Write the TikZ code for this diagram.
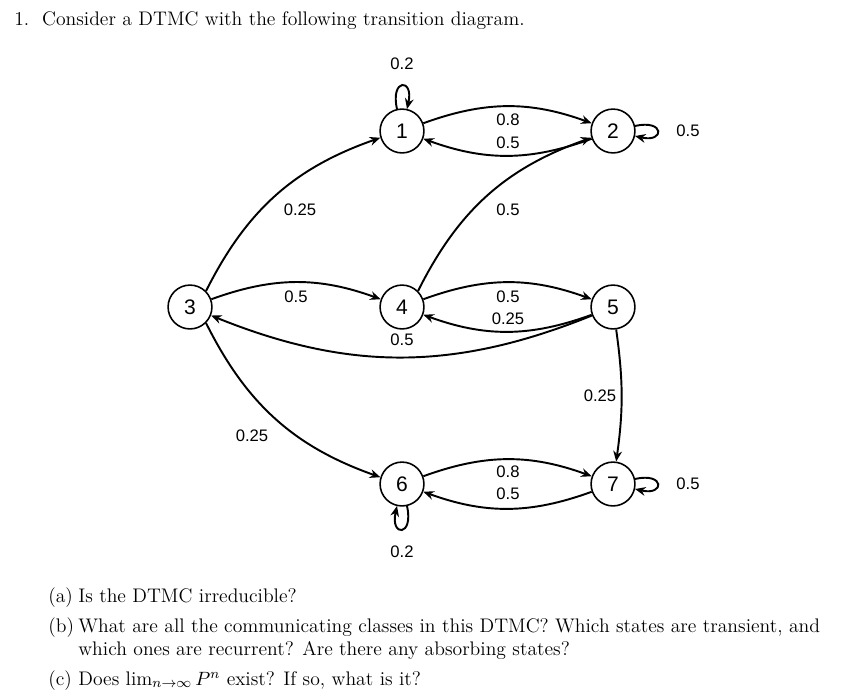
\documentclass[tikz,border=0pt]{standalone}
\usepackage{fontspec}
\newfontfamily\lab{Liberation Sans}
\usetikzlibrary{arrows.meta}
\begin{document}
\begin{tikzpicture}[x=0.57pt,y=-0.57pt,
 st/.style={circle,draw,line width=0.9pt,minimum size=25pt,inner sep=0pt,font=\lab\fontsize{12}{13}\selectfont},
 e/.style={line width=1.1pt,-{Stealth[length=6pt,width=5pt]}},
 lb/.style={font=\lab\fontsize{9.5}{11}\selectfont,inner sep=1pt},
 tx/.style={anchor=base west,inner sep=0pt,font=\fontsize{11.2}{13}\selectfont}]
\useasboundingbox (0,0) rectangle (846,698);
\node[st] (n1) at (402,131) {1};
\node[st] (n2) at (613,131) {2};
\node[st] (n3) at (190,307) {3};
\node[st] (n4) at (402,307) {4};
\node[st] (n5) at (613,307) {5};
\node[st] (n6) at (402,484) {6};
\node[st] (n7) at (613,484) {7};
\draw[e] (n1) to[bend left=20] (n2);
\draw[e] (n2) to[bend left=20] (n1);
\draw[e] (n6) to[bend left=20] (n7);
\draw[e] (n7) to[bend left=20] (n6);
\draw[e] (n4) to[bend left=20] (n5);
\draw[e] (n5) to[bend left=20] (n4);
\draw[e] (n3) to[bend left=20] (n4);
\draw[e] (n5) to[bend left=22] (n3);
\draw[e] (n3.north east) to[bend left=22] (n1);
\draw[e] (n3.south east) to[bend right=22] (n6);
\draw[e] (n4.north east) to[bend left=22] (n2);
\draw[e] (n5) to[bend left=8] (n7);
\coordinate (a1) at (397,109); \coordinate (b1) at (407,109);
\draw[e] (a1) .. controls (390,78) and (414,78) .. (b1);
\coordinate (a6) at (397,506); \coordinate (b6) at (407,506);
\draw[e] (b6) .. controls (414,537) and (390,537) .. (a6);
\coordinate (a2) at (635,126); \coordinate (b2) at (635,136);
\draw[e] (a2) .. controls (665,119) and (665,143) .. (b2);
\coordinate (a7) at (635,479); \coordinate (b7) at (635,489);
\draw[e] (a7) .. controls (665,472) and (665,496) .. (b7);
\node[lb] (l1) at (402,64) {0.2};
\node[lb] (l2) at (688,131) {0.5};
\node[lb] (l3) at (508,120) {0.8};
\node[lb] (l4) at (508,143) {0.5};
\node[lb] (l5) at (300,210) {0.25};
\node[lb] (l6) at (508,210) {0.5};
\node[lb] (l7) at (296,297) {0.5};
\node[lb] (l8) at (508,297) {0.5};
\node[lb] (l9) at (508,319) {0.25};
\node[lb] (l10) at (402,340) {0.5};
\node[lb] (l11) at (600,396) {0.25};
\node[lb] (l12) at (252,436) {0.25};
\node[lb] (l13) at (508,472) {0.8};
\node[lb] (l14) at (508,494) {0.5};
\node[lb] (l15) at (402,552) {0.2};
\node[lb] (l16) at (688,484) {0.5};
\node[tx] (t0) at (14,25) {1.\ \ Consider a DTMC with the following transition diagram.};
\node[tx] (ta) at (48,602) {(a)};
\node[tx] (ta2) at (78,602) {Is the DTMC irreducible?};
\node[tx] (tb) at (48,632) {(b)};
\node[tx] (tb2) at (78,632) {What are all the communicating classes in this DTMC? Which states are transient, and};
\node[tx] (tb3) at (78,655) {which ones are recurrent? Are there any absorbing states?};
\node[tx] (tc) at (48,685) {(c)};
\node[tx] (tc2) at (78,685) {Does $\lim_{n\to\infty}P^n$ exist? If so, what is it?};
\end{tikzpicture}
\end{document}
